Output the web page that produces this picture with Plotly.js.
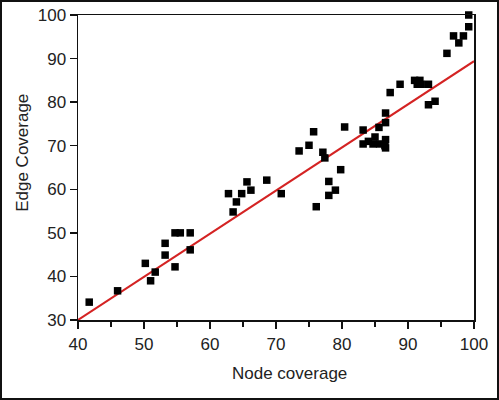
<!DOCTYPE html>
<html>
<head>
<meta charset="utf-8">
<script src="https://cdn.plot.ly/plotly-3.0.1.min.js"></script>
<style>
  body { margin: 0; background: #dcdcdc; }
  #frame { position: absolute; left: 0; top: 0; width: 495px; height: 396px; border: 2px solid #111; background: #fff; }
  #chart { width: 495px; height: 396px; }
</style>
</head>
<body>
<div id="frame"><div id="chart"></div></div>
<script>
// node coverage vs edge coverage, one square per program
var nodeCov = [41.7, 46.0, 50.2, 51.0, 51.7, 53.2, 53.2, 54.7, 55.5, 54.7, 57.0, 57.0,
               62.8, 64.0, 63.5, 64.8, 65.6, 66.2, 68.6, 70.8, 76.1,
               73.5, 75.0, 75.7, 77.1, 77.4, 79.8, 78.0, 79.0, 78.0,
               80.4, 83.2, 83.2, 84.0, 84.7, 85.0, 85.6, 85.7, 86.5, 86.6, 86.6, 86.6, 86.6,
               87.3, 88.8, 91.0, 91.8, 91.4, 92.0, 93.1, 93.1, 94.1,
               95.9, 96.9, 97.7, 98.4, 99.2, 99.2];
var edgeCov = [34.1, 36.7, 43.0, 39.0, 41.0, 47.6, 44.9, 50.0, 50.0, 42.2, 50.0, 46.1,
               59.0, 57.1, 54.8, 59.0, 61.7, 59.8, 62.1, 59.0, 56.0,
               68.8, 70.1, 73.2, 68.5, 67.2, 64.5, 61.8, 59.8, 58.6,
               74.3, 73.6, 70.4, 71.0, 70.4, 72.0, 74.2, 70.4, 70.0, 71.4, 69.5, 75.3, 77.5,
               82.2, 84.1, 85.0, 85.0, 84.1, 84.1, 84.1, 79.4, 80.2,
               91.2, 95.2, 93.6, 95.2, 97.3, 100.0];

// regression line end points
var fitX = [40, 100];
var fitY = [30, 89.4];

var xTicks = [40, 50, 60, 70, 80, 90, 100];
var yTicks = [30, 40, 50, 60, 70, 80, 90, 100];

var tickFont = { family: "Liberation Sans, Arial, sans-serif", size: 17, color: "#222" };

var data = [
  {
    x: fitX, y: fitY,
    type: "scatter", mode: "lines",
    line: { color: "#d42323", width: 2 },
    hoverinfo: "skip"
  },
  {
    x: nodeCov, y: edgeCov,
    type: "scatter", mode: "markers",
    marker: { symbol: "square", size: 7.5, color: "#000" },
    cliponaxis: false
  }
];

var layout = {
  width: 495, height: 396,
  margin: { l: 76, r: 23, t: 13, b: 78 },
  paper_bgcolor: "#fff", plot_bgcolor: "#fff",
  showlegend: false,
  font: tickFont,
  xaxis: {
    range: [40, 100], tickvals: xTicks,
    showgrid: false, zeroline: false,
    showline: true, linecolor: "#111", linewidth: 1.5, mirror: true,
    ticks: "outside", ticklen: 7, tickwidth: 1.5, tickcolor: "#111",
    ticklabelstandoff: 1,
    minor: { dtick: 5, ticks: "outside", ticklen: 5, tickwidth: 1.5, tickcolor: "#111", showgrid: false },
    tickfont: tickFont
  },
  yaxis: {
    range: [30, 100], tickvals: yTicks,
    showgrid: false, zeroline: false,
    showline: true, linecolor: "#111", linewidth: 1.5, mirror: true,
    ticks: "outside", ticklen: 7, tickwidth: 1.5, tickcolor: "#111",
    tickfont: tickFont
  },
  annotations: [
    { text: "Node coverage", xref: "paper", yref: "paper", x: 0.533, y: -0.174,
      xanchor: "center", yanchor: "middle", showarrow: false, font: tickFont },
    { text: "Edge Coverage", xref: "paper", yref: "paper", x: -0.139, y: 0.548,
      xanchor: "center", yanchor: "middle", textangle: -90, showarrow: false, font: tickFont }
  ]
};

Plotly.newPlot("chart", data, layout, { displayModeBar: false, staticPlot: true });
</script>
</body>
</html>
